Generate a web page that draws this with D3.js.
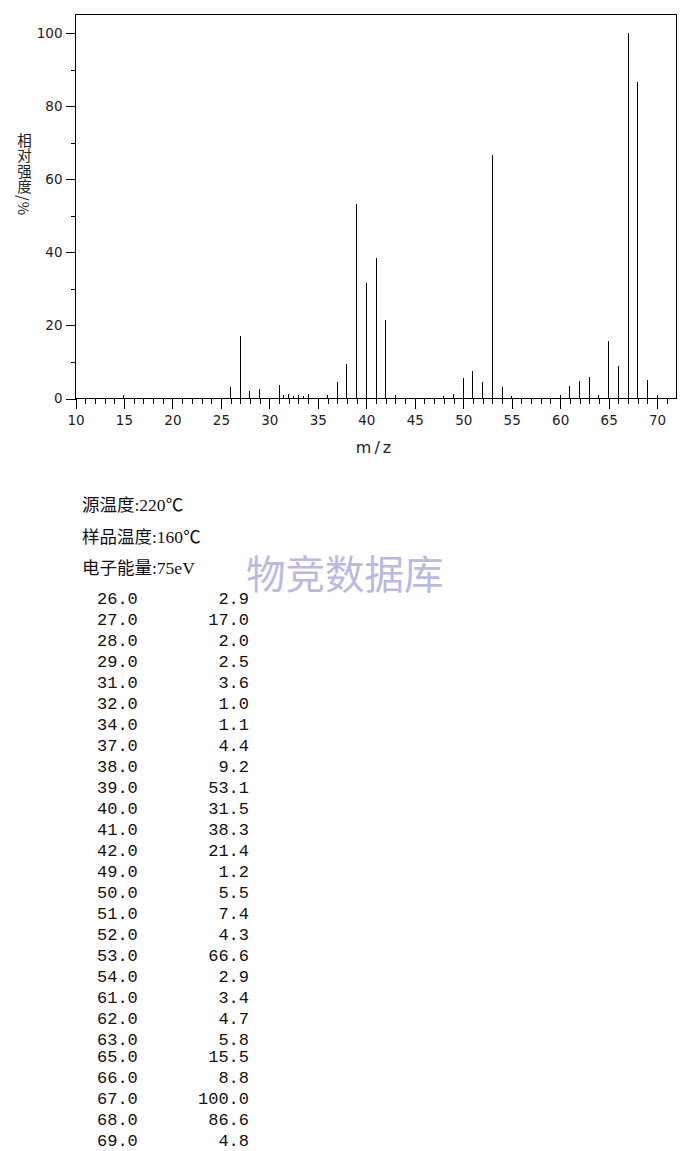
<!DOCTYPE html>
<html>
<head>
<meta charset="utf-8">
<script src="https://cdn.jsdelivr.net/npm/d3@7"></script>
<style>
  html, body { margin: 0; padding: 0; background: #fff; }
  svg { display: block; }
</style>
</head>
<body>
<svg id="chart" width="687" height="1151"></svg>
<script>
// ---- data ----
const peakMz = [15, 26, 27, 28, 29, 31, 31.5, 32, 32.5, 33, 33.5, 34, 36, 37, 38, 39, 40, 41, 42, 43, 48, 49, 50, 51, 52, 53, 54, 55, 60, 61, 62, 63, 64, 65, 66, 67, 68, 69, 70];
const peakIntensity = [0.8, 2.9, 17.0, 2.0, 2.5, 3.6, 0.9, 1.0, 0.6, 0.9, 0.5, 1.1, 0.7, 4.4, 9.2, 53.1, 31.5, 38.3, 21.4, 0.9, 0.5, 1.2, 5.5, 7.4, 4.3, 66.6, 2.9, 0.6, 0.9, 3.4, 4.7, 5.8, 0.9, 15.5, 8.8, 100.0, 86.6, 4.8, 0.9];

const xMajorTicks = [10, 15, 20, 25, 30, 35, 40, 45, 50, 55, 60, 65, 70];
const xMinorTicks = d3.range(10, 72, 1);
const yMajorTicks = [0, 20, 40, 60, 80, 100];
const yMinorTicks = [10, 30, 50, 70, 90];

const xLabel = "m/z";
const yLabel = "相对强度/%";

const infoLines = ["源温度:220℃", "样品温度:160℃", "电子能量:75eV"];
const watermark = "物竞数据库";

const tableMz = ["26.0","27.0","28.0","29.0","31.0","32.0","34.0","37.0","38.0","39.0","40.0","41.0","42.0","49.0","50.0","51.0","52.0","53.0","54.0","61.0","62.0","63.0","65.0","66.0","67.0","68.0","69.0"];
const tableIntensity = ["2.9","17.0","2.0","2.5","3.6","1.0","1.1","4.4","9.2","53.1","31.5","38.3","21.4","1.2","5.5","7.4","4.3","66.6","2.9","3.4","4.7","5.8","15.5","8.8","100.0","86.6","4.8"];

// ---- layout ----
const svg = d3.select("#chart");
const plot = { left: 75, right: 676, top: 14, bottom: 398 };
const x = d3.scaleLinear().domain([10, 72]).range([plot.left, plot.right]);
const y = d3.scaleLinear().domain([0, 105.2]).range([plot.bottom, plot.top]);

const axisFont = "'DejaVu Sans', Verdana, sans-serif";
const cjkFont = "'Noto Sans CJK SC', sans-serif";

// frame
svg.append("rect")
  .attr("x", plot.left + 0.5).attr("y", plot.top + 0.5)
  .attr("width", plot.right - plot.left).attr("height", plot.bottom - plot.top)
  .attr("fill", "none").attr("stroke", "#000").attr("stroke-width", 1)
  .attr("shape-rendering", "crispEdges");

// x axis minor / major
const gxMinor = svg.append("g")
  .attr("transform", `translate(0.5,${plot.bottom + 0.5})`)
  .call(d3.axisBottom(x).tickValues(xMinorTicks).tickSize(5).tickSizeOuter(0).tickFormat(""));
const gx = svg.append("g")
  .attr("transform", `translate(0.5,${plot.bottom + 0.5})`)
  .call(d3.axisBottom(x).tickValues(xMajorTicks).tickSize(10).tickSizeOuter(0).tickPadding(7).tickFormat(d3.format("d")));

// y axis
const gyMinor = svg.append("g")
  .attr("transform", `translate(${plot.left + 0.5},0.5)`)
  .call(d3.axisLeft(y).tickValues(yMinorTicks).tickSize(5).tickSizeOuter(0).tickFormat(""));
const gy = svg.append("g")
  .attr("transform", `translate(${plot.left + 0.5},0.5)`)
  .call(d3.axisLeft(y).tickValues(yMajorTicks).tickSize(10).tickSizeOuter(0).tickPadding(3).tickFormat(d3.format("d")));

[gxMinor, gx, gyMinor, gy].forEach(g => {
  g.select(".domain").remove();
  g.selectAll("line").attr("stroke", "#000").attr("shape-rendering", "crispEdges");
  g.selectAll("text").attr("font-family", axisFont).attr("font-size", 13.5).attr("fill", "#222");
});

// peaks
svg.append("g").selectAll("line")
  .data(peakMz.map((m, i) => ({ m, v: peakIntensity[i] })))
  .join("line")
  .attr("x1", d => Math.round(x(d.m)) + 0.5)
  .attr("x2", d => Math.round(x(d.m)) + 0.5)
  .attr("y1", y(0))
  .attr("y2", d => y(d.v))
  .attr("stroke", "#000").attr("stroke-width", 1)
  .attr("shape-rendering", "crispEdges");

// x title
svg.append("text")
  .attr("x", 375).attr("y", 453)
  .attr("text-anchor", "middle")
  .attr("font-family", axisFont).attr("font-size", 16)
  .attr("letter-spacing", 3)
  .attr("fill", "#222")
  .text(xLabel);

// y title: single vertical text (CJK upright, ASCII sideways)
svg.append("text")
  .attr("x", 24.5).attr("y", 133)
  .attr("fill", "#222")
  .attr("font-family", cjkFont).attr("font-size", 14.5)
  .attr("letter-spacing", 1)
  .style("writing-mode", "vertical-rl")
  .style("text-orientation", "mixed")
  .text(yLabel);

// info lines: CJK runs in CJK font, ASCII runs in serif
const runs = s => s.match(/[\u2000-\u9fff]+|[\x00-\x7f]+/g);
svg.append("g").selectAll("text")
  .data(infoLines)
  .join("text")
  .attr("x", 82)
  .attr("y", (d, i) => 511 + i * 31.5)
  .attr("fill", "#111")
  .each(function (d) {
    d3.select(this).selectAll("tspan")
      .data(runs(d))
      .join("tspan")
      .attr("font-family", r => /[\x00-\x7f]/.test(r) ? "'Liberation Serif', serif" : cjkFont)
      .attr("font-size", 17.5)
      .text(r => r);
  });

// watermark
svg.append("text")
  .attr("x", 246).attr("y", 589)
  .attr("font-family", cjkFont)
  .attr("font-size", 39.5)
  .attr("fill", "#b9b9e4")
  .text(watermark);

// table
const rowY = i => 604 + i * 21 - (i >= 22 ? 4 : 0);
const tbl = svg.append("g")
  .attr("font-family", "'Liberation Mono', 'Courier New', monospace")
  .attr("font-size", 17)
  .attr("fill", "#111");
tbl.selectAll("text.mz")
  .data(tableMz)
  .join("text").attr("class", "mz")
  .attr("x", 97).attr("y", (d, i) => rowY(i))
  .text(d => d);
tbl.selectAll("text.iv")
  .data(tableIntensity)
  .join("text").attr("class", "iv")
  .attr("x", 249).attr("y", (d, i) => rowY(i))
  .attr("text-anchor", "end")
  .text(d => d);
</script>
</body>
</html>
